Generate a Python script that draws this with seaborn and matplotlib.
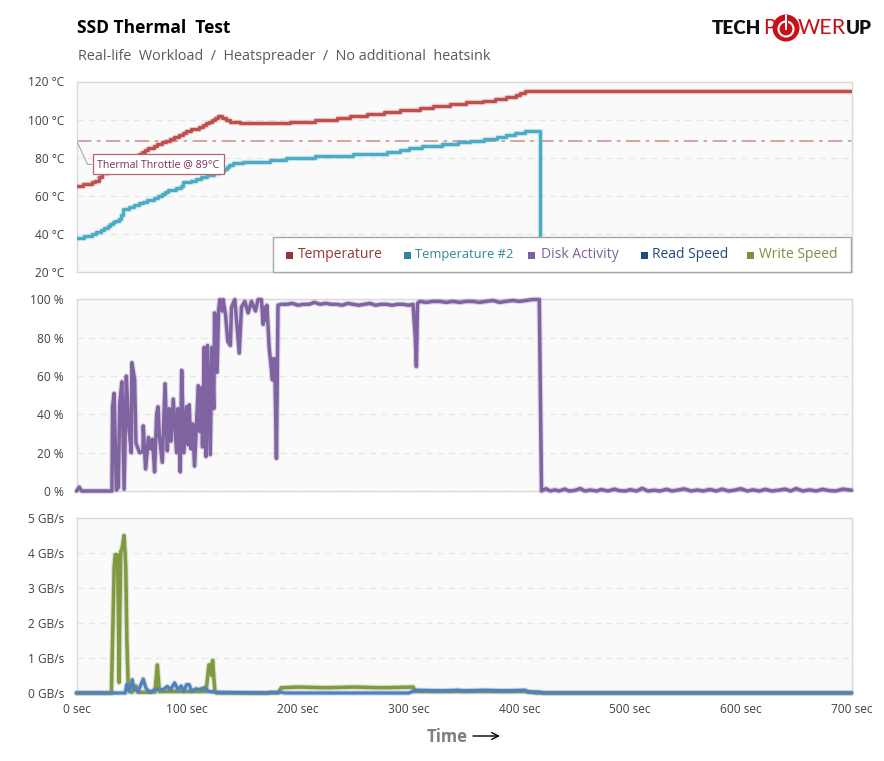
import matplotlib
matplotlib.use("Agg")
import matplotlib.pyplot as plt
import matplotlib.patheffects as pe
from matplotlib.patches import Ellipse, Rectangle
import seaborn as sns

temp_t = [0, 6, 14, 17, 20, 23, 28, 32, 35, 38, 42, 45, 48, 50, 53, 56, 59, 62, 65, 70, 73, 77, 81, 84, 88, 93, 96, 99,
          103, 111, 114, 117, 120, 122, 125, 128, 131, 135, 139, 148, 193, 215, 235, 247, 262, 278, 292, 310, 322, 337,
          352, 367, 378, 388, 397, 401, 405, 700]
temp_v = [65, 66, 67, 68, 70, 72, 73, 74, 75, 76, 77, 78, 79, 80, 81, 82, 83, 84, 85, 86, 87, 88, 89, 90, 91, 92, 93, 94,
          95, 96, 97, 98, 99, 100, 101, 102, 101, 100, 99, 98, 99, 100, 101, 102, 103, 104, 105, 106, 107, 108,
          109, 110, 111, 112, 113, 114, 115, 115]

temp2_t = [0, 7, 14, 18, 22, 25, 28, 30, 33, 35, 38, 40, 42, 47, 52, 56, 60, 64, 70, 74, 77, 80, 83, 90, 94, 96, 103, 108,
           112, 118, 124, 129, 133, 136, 138, 141, 150, 175, 189, 215, 250, 280, 292, 300, 312, 330, 345, 355, 368, 380,
           388, 396, 405, 418, 419]
temp2_v = [38, 39, 40, 41, 42, 43, 44, 45, 46, 47, 48, 50, 53, 54, 55, 56, 57, 58, 59, 60, 61, 62, 63, 64, 65, 67, 68, 69,
           70, 71, 72, 73, 74, 75, 76, 77, 78, 79, 80, 81, 82, 83, 84, 85, 86, 87, 88, 89, 90, 91,
           92, 93, 94, 94, 20]

disk_t = [0, 2.5, 4.7, 32, 32.6, 34, 36, 37.8, 39, 41, 43, 45, 47, 49.5, 50, 52.5, 53.7, 57, 60, 60.3, 62.4, 65, 67,
          68.7, 70.5, 72.4, 73.6, 74.8, 77.5, 80, 82, 83.8, 85.3, 87.4, 90.4, 91.6, 93.7, 95, 97, 99.4, 101, 101.8,
          103.3, 105, 106.6, 110, 111.5, 113, 113.8, 115.4, 116.9, 118.4, 120.8, 122.3, 124, 124.7, 127, 128.3, 129.5,
          131.6, 132.5, 134.6, 136.7, 139, 140, 143, 147, 149, 152, 155, 158, 161.7, 164, 167, 168.6, 170, 171, 172,
          174, 177, 177.6, 179, 180.6, 182, 185,
          190, 195, 200, 205, 210, 215, 220, 225, 230, 235, 240, 245, 250, 255, 260, 265, 270, 275, 280, 285, 290, 295,
          300, 304, 306, 307, 308, 310, 316, 322, 328, 334, 340, 346, 352, 358, 364, 370, 376, 382, 388, 394, 400, 406,
          412, 418, 420,
          424, 428, 432, 436, 441, 445, 450, 455, 459, 464, 470, 474, 480, 486, 490, 496, 500, 506, 511, 516, 522, 527,
          533, 538, 544, 549, 555, 561, 566, 572, 578, 583, 589, 594, 600, 606, 611, 617, 622, 628, 634, 640, 645, 650,
          656, 662, 668, 674, 680, 686, 692, 700]
disk_v = [0, 2, 0, 0, 44, 51, 0.5, 2, 45, 57, 1, 60, 35, 20, 67, 58, 25, 20, 20.5, 34, 11.5, 28, 22,
          27, 10, 40, 44, 29, 15, 56, 21, 43, 26, 48, 20, 43, 10, 63, 20, 44, 24, 45,
          22, 35, 13, 55, 31, 54, 23, 75, 18, 76, 19, 75, 43, 93, 62, 94, 100,
          94, 100, 92, 78, 76, 96, 100, 72, 96, 99, 93, 99, 94, 100, 100, 87, 96, 89, 97,
          75, 58, 69, 69, 17, 97, 97.5,
          97.5, 98, 97, 97.5, 97.5, 98.5, 97.5, 98, 97.5, 97.5, 97, 98, 97.5, 97, 97.5, 98, 97, 97.5, 97.5, 97, 97.5, 97.5,
          97, 97.5, 80, 65, 98, 99, 98.5, 99, 99, 98.5, 99, 98.5, 99, 99, 98.5, 99, 99.5, 98.5, 99, 99.5, 99, 99.5,
          100, 100, 0,
          1.2, 0, 0.6, 0, 1, 0, 0.3, 1.3, 0, 0.5, 0, 0.8, 0, 1, 0.2, 0, 0.7, 0, 1.4, 0, 0.4, 0,
          0.9, 0, 0.6, 1.1, 0, 0.5, 0, 0.8, 0, 1, 0, 0.4, 1.2, 0, 0.6, 0, 0.9, 0, 0.4, 1, 0, 1.3,
          0, 0.6, 0, 0.9, 0.2, 0, 1, 0.4]

write_t = [0, 31.5, 33, 34, 35, 37, 38, 38.5, 39, 40, 41, 43, 44.5, 45.5, 46.8, 49.8, 53.7, 55.8,
           70.9, 73, 74.8, 117, 119.6, 121, 122, 122.9, 125, 126.5, 182, 185, 200, 225, 250, 275, 304, 306, 405, 415, 700]
write_v = [0, 0, 2.1, 3.6, 3.95, 3.95, 2, 0.3, 2, 4.05, 4.1, 4.5, 3.6, 1.5, 0.1, 0.02, 0.2, 0.02,
           0.03, 0.8, 0.05, 0.05, 0.8, 0.8, 0.5, 0.93, 0.05, 0, 0, 0.15, 0.17, 0.15, 0.17, 0.15, 0.17, 0.05, 0.05, 0, 0]

read_t = [0, 44, 45.4, 47.5, 50.4, 52, 55.8, 60.3, 62.7, 66.3, 70.9, 78.4, 82, 85, 88.6, 91.6, 94.6, 97, 99.4, 101.8,
          104, 107.8, 110.8, 115.4, 119, 126.5, 172, 175, 185, 188, 300, 306, 330, 345, 350, 370, 385, 405, 408, 418, 422, 700]
read_v = [0, 0, 0.24, 0.05, 0.38, 0.1, 0.05, 0.4, 0.14, 0.02, 0.1, 0.1, 0.19, 0.1, 0.29, 0.1, 0.2, 0.05, 0.24, 0.24,
          0.05, 0.12, 0.1, 0.15, 0.05, 0.02, 0, 0.02, 0.02, 0, 0, 0.08, 0.06, 0.08, 0.06, 0.08, 0.06, 0.08, 0.03, 0.03, 0, 0]

temp_ticks = [20, 40, 60, 80, 100, 120]
disk_ticks = [0, 20, 40, 60, 80, 100]
speed_ticks = [0, 1, 2, 3, 4, 5]
time_ticks = [0, 100, 200, 300, 400, 500, 600, 700]
throttle = 89

legend_names = ["Temperature", "Temperature #2", "Disk Activity", "Read Speed", "Write Speed"]
legend_colors = ["#953735", "#31859C", "#7D60A0", "#1F497D", "#77933C"]
# pixel x of each legend marker and label
legend_marker_x = [289, 407, 531, 644, 750]
legend_text_x = [298, 415, 541, 652, 759]

W, H = 884, 761


def panel(top, bottom):
    a = fig.add_axes([76.5 / W, 1 - bottom / H, 775 / W, (bottom - top) / H])
    a.set_facecolor("#FAFAFA")
    a.set_xlim(0, 700)
    a.set_xticks(time_ticks)
    for s in a.spines.values():
        s.set_color("#D9D9D9")
        s.set_linewidth(1)
    a.grid(axis="y", color="#E6E6E6", linestyle=(0, (5, 4)), linewidth=0.9)
    a.grid(axis="x", visible=False)
    a.set_axisbelow(True)
    a.tick_params(axis="y", length=0, labelsize=8.6, labelcolor="#404040", pad=9)
    a.tick_params(axis="x", length=0, labelbottom=False)
    return a


def draw(x, y, color, a, lw=2.3, **kw):
    halo = [pe.withStroke(linewidth=lw + 1.6, foreground=color, alpha=0.25)]
    sns.lineplot(x=x, y=y, color=color, ax=a, linewidth=lw, estimator=None, sort=False, errorbar=None,
                 solid_joinstyle="round", solid_capstyle="round", path_effects=halo, zorder=3, **kw)


sns.set_theme(style="white")
plt.rcParams["font.family"] = ["Open Sans", "DejaVu Sans"]

fig = plt.figure(figsize=(W / 100, H / 100), dpi=100, facecolor="white")

ax1 = panel(81.5, 272)
ax1.set_ylim(20, 120)
ax1.set_yticks(temp_ticks)
ax1.set_yticklabels([f"{v} °C" for v in temp_ticks])
ax1.axhline(throttle, color="#DC9A98", linestyle=(0, (8, 3, 2, 3)), linewidth=1.3, zorder=1.5)
draw(temp_t, temp_v, "#C0504D", ax1, drawstyle="steps-post")
draw(temp2_t, temp2_v, "#4BACC6", ax1, drawstyle="steps-post")

ax1.plot([0, 10, 14], [throttle, 76.5, 76.5], color="#A6A6A6", linewidth=0.8, zorder=4)
ax1.text(74, 76.5, "Thermal Throttle @ 89°C", fontsize=7.7, color="#7B2C5E", ha="center", va="center", zorder=6,
         bbox=dict(boxstyle="square,pad=0.42", facecolor="white", edgecolor="#B2666E", linewidth=0.9))

# legend box sits across the bottom of the top panel
fig.add_artist(Rectangle((273 / W, 1 - 272 / H), 578 / W, 35 / H, facecolor="white", edgecolor="#A6A6A6", linewidth=1))
for name, color, mx, tx in zip(legend_names, legend_colors, legend_marker_x, legend_text_x):
    fig.add_artist(Rectangle(((mx - 3.5) / W, 1 - 259 / H), 7 / W, 7 / H, facecolor=color, edgecolor="none"))
    fig.text(tx / W, 1 - 255 / H, name, fontsize=9.3 if "#" in name else 10, color=color, va="center")

ax2 = panel(299.5, 491)
ax2.set_ylim(0, 100)
ax2.set_yticks(disk_ticks)
ax2.set_yticklabels([f"{v} %" for v in disk_ticks])
draw(disk_t, disk_v, "#8064A2", ax2, lw=2.5, clip_on=False)

ax3 = panel(518, 693)
ax3.set_ylim(0, 5)
ax3.set_yticks(speed_ticks)
ax3.set_yticklabels([f"{v} GB/s" for v in speed_ticks])
draw(write_t, write_v, "#7F9A41", ax3, lw=2.5, clip_on=False)
draw(read_t, read_v, "#4F81BD", ax3, lw=2.3, clip_on=False)
ax3.tick_params(axis="x", length=4, width=1, color="#D9D9D9", labelbottom=True, labelsize=8.6, labelcolor="#404040", pad=3)
ax3.set_xticklabels([f"{v} sec" for v in time_ticks])

# titles
fig.text(77 / W, 1 - 28 / H, "SSD Thermal  Test", fontsize=12.5, fontweight="bold", color="black", va="center")
fig.text(78 / W, 1 - 56 / H, "Real-life  Workload  /  Heatspreader  /  No additional  heatsink",
         fontsize=10.4, color="#595959", va="center")

fig.text(447 / W, 1 - 736.5 / H, "Time", fontsize=12, fontweight="bold", color="#7F7F7F", ha="center", va="center")
fig.add_artist(plt.Annotation("", xy=(500 / W, 1 - 736 / H), xytext=(473 / W, 1 - 736 / H), xycoords="figure fraction",
                              textcoords="figure fraction",
                              arrowprops=dict(arrowstyle="->", color="black", linewidth=1, shrinkA=0, shrinkB=0)))

# logo
logo_red = "#C8101A"
logo_family = ["Lato", "DejaVu Sans"]
fig.text(712 / W, 1 - 28 / H, "TECH", color="#111111", fontsize=13.6, fontweight="heavy", va="center", family=logo_family)
fig.text(763 / W, 1 - 28 / H, "P", color=logo_red, fontsize=15, va="center", family=logo_family)
fig.text(798 / W, 1 - 28 / H, "WER", color=logo_red, fontsize=15.5, va="center", family=logo_family)
fig.text(846 / W, 1 - 28 / H, "UP", color="#111111", fontsize=13.5, fontweight="heavy", va="center", family=logo_family)
fig.add_artist(Ellipse((786 / W, 1 - 28 / H), 27 / W, 27 / H, facecolor=logo_red, edgecolor="none"))
fig.add_artist(Ellipse((786 / W, 1 - 29 / H), 15 / W, 15 / H, facecolor="none", edgecolor="white", linewidth=1.5))
fig.add_artist(Rectangle((784.5 / W, 1 - 31 / H), 3 / W, 16 / H, facecolor=logo_red, edgecolor="none"))
fig.add_artist(Rectangle((785.2 / W, 1 - 30 / H), 1.6 / W, 15 / H, facecolor="white", edgecolor="none"))

fig.savefig("out.png", dpi=100)
